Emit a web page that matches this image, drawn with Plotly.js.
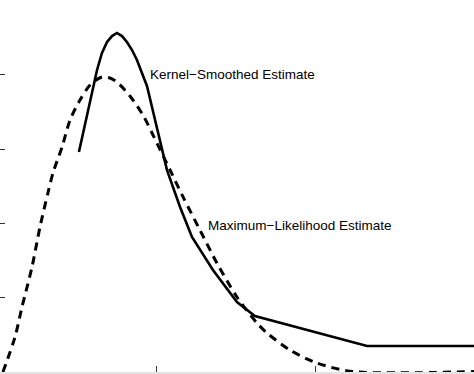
<!DOCTYPE html>
<html>
<head>
<meta charset="utf-8">
<script src="https://cdn.plot.ly/plotly-3.0.1.min.js"></script>
<style>html,body{margin:0;padding:0;background:#fff;}#chart{width:474px;height:374px;}</style>
</head>
<body>
<div id="chart"></div>
<script>
// Kernel-smoothed estimate (solid)
const kernelX = [0.509, 0.566, 0.623, 0.654, 0.686, 0.717, 0.748, 0.780, 0.811, 0.843, 0.874, 0.937, 1.006, 1.063, 1.145, 1.220, 1.352, 1.503, 1.616, 2.321, 2.994];
const kernelY = [2.964, 3.529, 4.067, 4.296, 4.444, 4.524, 4.565, 4.524, 4.444, 4.336, 4.202, 3.852, 3.219, 2.721, 2.224, 1.820, 1.376, 0.946, 0.757, 0.354, 0.354];
// Maximum-likelihood estimate (dashed)
const mleX = [0.031, 0.107, 0.151, 0.214, 0.264, 0.314, 0.346, 0.403, 0.453, 0.516, 0.579, 0.654, 0.704, 0.748, 0.830, 0.912, 0.975, 1.082, 1.164, 1.270, 1.377, 1.503, 1.629, 1.692, 1.836, 2.006, 2.233, 2.994];
const mleY = [0.004, 0.475, 0.878, 1.417, 1.955, 2.412, 2.683, 3.031, 3.394, 3.663, 3.865, 3.973, 3.959, 3.906, 3.717, 3.461, 3.192, 2.722, 2.359, 1.915, 1.470, 1.013, 0.663, 0.529, 0.300, 0.125, 0.010, 0.010];
const labelTexts = ["Kernel\u2212Smoothed Estimate", "Maximum\u2212Likelihood Estimate"];
const labelX = [0.943, 1.308];
const labelY = [4.0, 1.98];
const xTicks = [1, 2];
const yTicks = [1, 2, 3, 4];

const traces = [
  {x: kernelX, y: kernelY, mode: 'lines', line: {color: '#000', width: 2.6}, hoverinfo: 'skip'},
  {x: mleX, y: mleY, mode: 'lines', line: {color: '#000', width: 3, dash: '8px,6px', shape: 'spline', smoothing: 0.8}, hoverinfo: 'skip'}
];

const annotations = labelTexts.map((t, i) => ({
  x: labelX[i], y: labelY[i], xref: 'x', yref: 'y', text: t, showarrow: false,
  xanchor: 'left', yanchor: 'middle',
  font: {family: 'Liberation Sans, Arial, sans-serif', size: 13.5, color: '#000'}
}));

const layout = {
  width: 474, height: 374,
  margin: {l: 0, r: 0, t: 0, b: 2, pad: 0},
  paper_bgcolor: '#fff', plot_bgcolor: '#fff',
  showlegend: false,
  xaxis: {
    range: [0.0126, 2.994], tickvals: xTicks, showticklabels: false,
    ticks: 'inside', ticklen: 6, tickwidth: 1, tickcolor: '#333',
    showgrid: false, zeroline: false,
    showline: true, linecolor: '#e2e2e2', linewidth: 3
  },
  yaxis: {
    range: [0.004, 5.009], tickvals: yTicks, showticklabels: false,
    ticks: 'inside', ticklen: 5, tickwidth: 1, tickcolor: '#333',
    showgrid: false, zeroline: false, showline: false
  },
  annotations: annotations
};

Plotly.newPlot('chart', traces, layout, {staticPlot: true, displayModeBar: false});
</script>
</body>
</html>
